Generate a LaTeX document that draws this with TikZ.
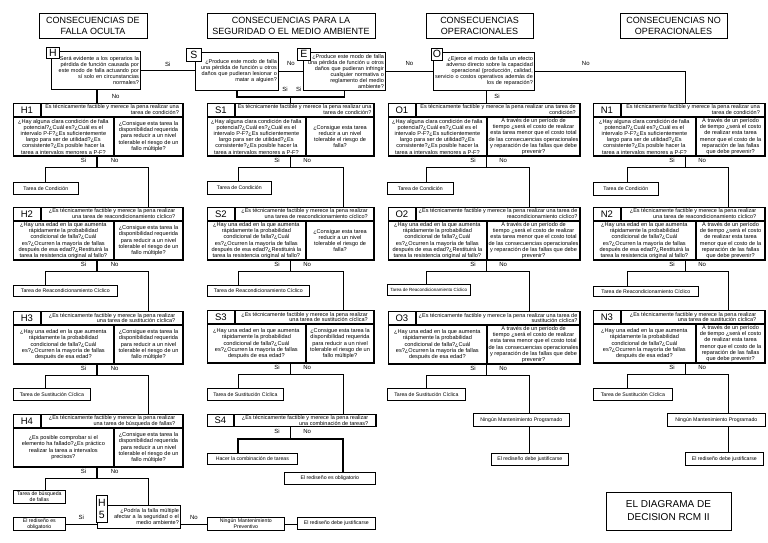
\documentclass[tikz,border=0pt]{standalone}
\usepackage{fontspec}
\setmainfont{Liberation Sans}
\usetikzlibrary{positioning}
\usetikzlibrary{shadows}
\tikzset{
    tbox/.style={
        draw, line width=0.7pt, fill=white,
        drop shadow={shadow xshift=0.8pt, shadow yshift=-0.8pt, fill=black!60, opacity=0.8}},
    capbox/.style={tbox, align=center, inner sep=1pt,
        font=\fontsize{9}{11}\selectfont},
    ask/.style={tbox, anchor=north west, align=right, inner sep=0.8pt,
        font=\fontsize{5.5}{6}\selectfont},
    tag/.style={tbox, anchor=north west, inner sep=0pt, align=center,
        font=\fontsize{10.5}{12}\selectfont},
    decframe/.style={tbox, anchor=north west, minimum height=52},
    idcell/.style={draw, line width=0.7pt, anchor=north west, inner sep=0pt,
        minimum width=27, minimum height=13, font=\fontsize{9.5}{10}\selectfont},
    headcell/.style={draw, line width=0.7pt, anchor=north west, inner sep=0pt,
        minimum height=13, align=right, font=\fontsize{5.5}{5.7}\selectfont},
    qcell/.style={draw, line width=0.7pt, anchor=north west, inner sep=0.6pt,
        minimum height=39, align=center, font=\fontsize{5.6}{6.2}\selectfont},
    task/.style={tbox, anchor=north west, align=center, inner sep=0.5pt,
        font=\fontsize{5.2}{5.8}\selectfont},
    lbl/.style={inner sep=0pt, font=\fontsize{6}{6}\selectfont},
    conn/.style={draw, line width=0.7pt},
    heavy/.style={line width=1.6pt}}

% decision box: name, x, y, width, divider, label, header, left, right
\newcommand{\decbox}[9]{%
    \node[decframe, minimum width=#4] (#1) at (#2,#3) {};
    \node[idcell] (#1-id) at (#1.north west) {#6};
    \node[headcell, minimum width=#4-27] (#1-hd) at (#1-id.north east) {#7};
    \node[qcell, minimum width=#5] (#1-l) at (#1-id.south west) {#8};
    \node[qcell, minimum width=#4-#5] (#1-r) at (#1-l.north east) {#9};}

\newcommand{\txCond}{¿Hay alguna clara condición de falla\\potencial?¿Cuál es?¿Cuál es el\\intervalo P-F?¿Es suficientemente\\largo para ser de utilidad?¿Es\\consistente?¿Es posible hacer la\\tarea a intervalos menores a P-F?}
\newcommand{\txEdadR}{¿Hay una edad en la que aumenta\\rápidamente la probabilidad\\condicional de falla?¿Cuál\\es?¿Ocurren la mayoría de fallas\\después de esa edad?¿Restituirá la\\tarea la resistencia original al fallo?}
\newcommand{\txEdad}{¿Hay una edad en la que aumenta\\rápidamente la probabilidad\\condicional de falla?¿Cuál\\es?¿Ocurren la mayoría de fallas\\después de esa edad?}
\newcommand{\txMulti}{¿Consigue esta tarea la\\disponibilidad requerida\\para reducir a un nivel\\tolerable el riesgo de un\\fallo múltiple?}
\newcommand{\txRiesgo}{¿Consigue esta tarea\\reducir a un nivel\\tolerable el riesgo de\\falla?}
\newcommand{\txCostoOp}{A través de un período de\\tiempo ¿será el costo de realizar\\esta tarea menor que el costo total\\de las consecuencias operacionales\\y reparación de las fallas que debe\\prevenir?}
\newcommand{\txCostoNo}{A través de un período\\de tiempo ¿será el costo\\de realizar esta tarea\\menor que el costo de la\\reparación de las fallas\\que debe prevenir?}
\newcommand{\hdCond}{Es técnicamente factible y merece la pena realizar una\\tarea de condición?}
\newcommand{\hdRec}{¿Es técnicamente factible y merece la pena realizar\\una tarea de reacondicionamiento cíclico?}
\newcommand{\hdSus}{¿Es técnicamente factible y merece la pena realizar\\una tarea de sustitución cíclica?}

\begin{document}
\begin{tikzpicture}[x=1pt, y=-1pt]
    \useasboundingbox (0,0) rectangle (768,543);

    % column lines
    \coordinate (hx) at (97,0);  \coordinate (hL) at (45,0);  \coordinate (hR) at (148,0);
    \coordinate (sx) at (290,0); \coordinate (sL) at (238,0); \coordinate (sR) at (343,0);
    \coordinate (ox) at (486,0); \coordinate (oL) at (426,0); \coordinate (oR) at (529,0);
    \coordinate (nx) at (685,0); \coordinate (nL) at (627,0); \coordinate (nR) at (728,0);
    \coordinate (sej) at (290,97);

    % titles
    \node[capbox, minimum width=108, minimum height=25] (t-h) at (93,25.5) {CONSECUENCIAS DE\\FALLA OCULTA};
    \node[capbox, minimum width=168, minimum height=25] (t-s) at (291,25.5) {CONSECUENCIAS PARA LA\\SEGURIDAD O EL MEDIO AMBIENTE};
    \node[capbox, minimum width=107, minimum height=25] (t-o) at (479.5,25.5) {CONSECUENCIAS\\OPERACIONALES};
    \node[capbox, minimum width=107, minimum height=25] (t-n) at (673.5,25.5) {CONSECUENCIAS NO\\OPERACIONALES};

    % first questions
    \node[ask, minimum width=89, minimum height=38, text width=86] (hq) at (51,51) {Será evidente a los operarios la\\pérdida de función causada por\\este modo de falla actuando por\\sí solo en circunstancias\\normales?};
    \node[tag, minimum width=13, minimum height=11] (h-tag) at (46,47) {H};
    \node[ask, minimum width=83, minimum height=38, text width=80] (sq) at (195,52) {¿Produce este modo de falla\\una pérdida de función u otros\\daños que pudieran lesionar o\\matar a alguien?};
    \node[tag, minimum width=15, minimum height=13] (s-tag) at (186,48) {S};
    \node[ask, minimum width=82, minimum height=38, text width=79] (eq) at (303,52) {¿Produce este modo de falla\\una pérdida de función u otros\\daños que pudieran infringir\\cualquier normativa o\\reglamento del medio\\ambiente?};
    \node[tag, minimum width=13, minimum height=12] (e-tag) at (297,48) {E};
    \node[ask, minimum width=101, minimum height=38, text width=98] (oq) at (433,52) {¿Ejerce el modo de falla un efecto\\adverso directo sobre la capacidad\\operacional (producción, calidad,\\servicio o costos operativos además de\\los de reparación?};
    \node[tag, minimum width=11, minimum height=12] (o-tag) at (431,48) {O};

    % decision boxes
    \decbox{h1}{13}{103}{169}{100}{H1}{\hdCond}{\txCond}{\txMulti}
    \decbox{h2}{13}{207}{169}{100}{H2}{\hdRec}{\txEdadR}{\txMulti}
    \decbox{h3}{13}{311}{169}{100}{H3}{\hdSus}{\txEdad}{\txMulti}
    \decbox{h4}{13}{414}{169}{100}{H4}{¿Es técnicamente factible y merece la pena realizar\\una tarea de búsqueda de fallas?}{¿Es posible comprobar si el\\elemento ha fallado?¿Es práctico\\realizar la tarea a intervalos\\precisos?}{\txMulti}
    \decbox{s1}{207}{103}{166}{98}{S1}{\hdCond}{\txCond}{\txRiesgo}
    \decbox{s2}{207}{207}{166}{98}{S2}{\hdRec}{\txEdadR}{\txRiesgo}
    \decbox{s3}{207}{310}{166}{98}{S3}{\hdSus}{\txEdad}{\txMulti}
    \decbox{o1}{388}{103}{191}{98}{O1}{Es técnicamente factible y merece la pena realizar una tarea de\\condición?}{\txCond}{\txCostoOp}
    \decbox{o2}{388}{207}{191}{98}{O2}{¿Es técnicamente factible y merece la pena realizar una tarea de\\reacondicionamiento cíclico?}{\txEdadR}{\txCostoOp}
    \decbox{o3}{388}{311}{191}{98}{O3}{¿Es técnicamente factible y merece la pena realizar una tarea de\\sustitución cíclica?}{\txEdad}{\txCostoOp}
    \decbox{n1}{593}{103}{171}{102}{N1}{\hdCond}{\txCond}{\txCostoNo}
    \decbox{n2}{593}{207}{171}{102}{N2}{\hdRec}{\txEdadR}{\txCostoNo}
    \decbox{n3}{593}{310}{171}{102}{N3}{\hdSus}{\txEdad}{\txCostoNo}

    \node[decframe, minimum width=168, minimum height=12] (s4) at (207,414) {};
    \node[idcell, minimum width=26, minimum height=12] (s4-id) at (s4.north west) {S4};
    \node[headcell, minimum width=142, minimum height=12] (s4-hd) at (s4-id.north east) {¿Es técnicamente factible y merece la pena realizar\\una combinación de tareas?};

    \node[ask, minimum width=83, minimum height=23, text width=80] (h5q) at (97,505) {¿Podría la falla múltiple\\afectar a la seguridad o el\\medio ambiente?};
    \node[tag, minimum width=11, minimum height=27] (h5-tag) at (96,495) {H\\5};

    % tasks
    \node[task, minimum width=65, minimum height=12] (cnd-h) at (13,182) {Tarea de Condición};
    \node[task, minimum width=104, minimum height=11] (rec-h) at (13,285) {Tarea de Reacondicionamiento Cíclico};
    \node[task, minimum width=77, minimum height=12] (sus-h) at (13,388) {Tarea de Sustitución Cíclica};
    \node[task, minimum width=52, minimum height=13] (bus-h) at (13,490) {Tarea de búsqueda\\de fallas};
    \node[task, minimum width=52, minimum height=13] (red-h) at (13,517) {El rediseño es\\obligatorio};
    \node[task, minimum width=77, minimum height=13] (nmp-h) at (207,517) {Ningún Mantenimiento\\Preventivo};
    \node[task, minimum width=78, minimum height=12] (rdj-h) at (297,517) {El rediseño debe justificarse};

    \node[task, minimum width=64, minimum height=13] (cnd-s) at (207,181) {Tarea de Condición};
    \node[task, minimum width=102, minimum height=11] (rec-s) at (207,285) {Tarea de Reacondicionamiento Cíclico};
    \node[task, minimum width=76, minimum height=12] (sus-s) at (207,388) {Tarea de Sustitución Cíclica};
    \node[task, minimum width=90, minimum height=11] (hct) at (207,453) {Hacer la combinación de tareas};
    \node[task, minimum width=91, minimum height=12] (reo-s) at (284,472) {El rediseño es obligatorio};

    \node[task, minimum width=66, minimum height=12] (cnd-o) at (387,182) {Tarea de Condición};
    \node[task, minimum width=83, minimum height=11, font=\fontsize{4.5}{5}\selectfont] (rec-o) at (387,284) {Tarea de Reacondicionamiento Cíclico};
    \node[task, minimum width=78, minimum height=12] (sus-o) at (387,388) {Tarea de Sustitución Cíclica};
    \node[task, minimum width=96, minimum height=13] (nmp-o) at (473,413) {Ningún Mantenimiento Programado};
    \node[task, minimum width=77, minimum height=12] (rdj-o) at (491,453) {El rediseño debe justificarse};

    \node[task, minimum width=65, minimum height=13] (cnd-n) at (593,182) {Tarea de Condición};
    \node[task, minimum width=105, minimum height=10] (rec-n) at (593,286) {Tarea de Reacondicionamiento Cíclico};
    \node[task, minimum width=79, minimum height=12] (sus-n) at (593,388) {Tarea de Sustitución Cíclica};
    \node[task, minimum width=98, minimum height=13] (nmp-n) at (667,413) {Ningún Mantenimiento Programado};
    \node[task, minimum width=78, minimum height=13] (rdj-n) at (685,452) {El rediseño debe justificarse};

    \node[capbox, minimum width=125, minimum height=38, font=\fontsize{10}{13}\selectfont] (rcm) at (668.5,511) {EL DIAGRAMA DE\\DECISION RCM II};

    % first row links
    \draw[conn] (hq.east) -- (hq.east -| sq.west) node[lbl, midway, above=3pt] (hq-si) {Si};
    \draw[conn] (sq.east) -- (sq.east -| eq.west) node[lbl, midway, above=5pt] (sq-no) {No};
    \draw[conn] (eq.east) -- (eq.east -| oq.west) node[lbl, midway, above=5pt] (eq-no) {No};
    \draw[conn] (oq.east) -| (n1.north -| nx) node[lbl, pos=.17, above=5pt] (oq-no) {No};
    \draw[conn, heavy] (hq.south -| hx) -- (h1.north -| hx) node[lbl, midway, right=14pt] (hq-no) {No};
    \draw[conn, heavy] (sq.south) |- (sej) -| (eq.south);
    \draw[conn] (sej) -- (sej |- s1.north);
    \node[lbl, above left=5pt and 2pt of sej] (sq-si) {Si};
    \node[lbl, above right=5pt and 6pt of sej] (eq-si) {Si};
    \draw[conn] (oq.south -| ox) -- (o1.north -| ox) node[lbl, midway, right=8pt] (oq-si) {Si};

    % H column
    \draw[conn, heavy] (h1.south -| hx) -- ++(0,12) coordinate (h1-b)
        node[lbl, pos=.4, left=10pt] (h1-si) {Si} node[lbl, pos=.4, right=13pt] (h1-no) {No};
    \draw[conn] (cnd-h.north -| hL) |- (h1-b) -| (h2.north -| hR);
    \draw[conn, heavy] (h2.south -| hx) -- ++(0,12) coordinate (h2-b)
        node[lbl, pos=.4, left=10pt] (h2-si) {Si} node[lbl, pos=.4, right=13pt] (h2-no) {No};
    \draw[conn] (rec-h.north -| hL) |- (h2-b) -| (h3.north -| hR);
    \draw[conn, heavy] (h3.south -| hx) -- ++(0,12) coordinate (h3-b)
        node[lbl, pos=.4, left=10pt] (h3-si) {Si} node[lbl, pos=.4, right=13pt] (h3-no) {No};
    \draw[conn] (sus-h.north -| hL) |- (h3-b) -| (h4.north -| hR);
    \draw[conn, heavy] (h4.south -| hx) -- ++(0,12) coordinate (h4-b)
        node[lbl, pos=.4, left=10pt] (h4-si) {Si} node[lbl, pos=.4, right=13pt] (h4-no) {No};
    \draw[conn] (bus-h.north -| hL) |- (h4-b) -| (h5q.north -| hR);
    \draw[conn] (red-h.east) -- (red-h.east -| h5q.west) node[lbl, midway, above=4pt] (h5-si) {Si};
    \draw[conn] (h5q.east |- nmp-h.west) -- (nmp-h.west) node[lbl, midway, above=4pt] (h5-no) {No};
    \draw[conn] (nmp-h.east) -- (nmp-h.east -| rdj-h.west);

    % S column
    \draw[conn] (s1.south -| sx) -- ++(0,12) coordinate (s1-b)
        node[lbl, pos=.4, left=10pt] (s1-si) {Si} node[lbl, pos=.4, right=13pt] (s1-no) {No};
    \draw[conn] (cnd-s.north -| sL) |- (s1-b) -| (s2.north -| sR);
    \draw[conn] (s2.south -| sx) -- ++(0,12) coordinate (s2-b)
        node[lbl, pos=.4, left=10pt] (s2-si) {Si} node[lbl, pos=.4, right=13pt] (s2-no) {No};
    \draw[conn] (rec-s.north -| sL) |- (s2-b) -| (s3.north -| sR);
    \draw[conn] (s3.south -| sx) -- ++(0,12) coordinate (s3-b)
        node[lbl, pos=.4, left=10pt] (s3-si) {Si} node[lbl, pos=.4, right=13pt] (s3-no) {No};
    \draw[conn] (sus-s.north -| sL) |- (s3-b) -| (s4.north -| sR);
    \draw[conn] (s4.south -| sx) -- ++(0,12) coordinate (s4-b)
        node[lbl, pos=.4, left=10pt] (s4-si) {Si} node[lbl, pos=.4, right=13pt] (s4-no) {No};
    \draw[conn, heavy] (hct.north -| sL) |- (s4-b) -| (reo-s.north -| sR);

    % O column
    \draw[conn] (o1.south -| ox) -- ++(0,12) coordinate (o1-b)
        node[lbl, pos=.4, left=10pt] (o1-si) {Si} node[lbl, pos=.4, right=13pt] (o1-no) {No};
    \draw[conn] (cnd-o.north -| oL) |- (o1-b) -| (o2.north -| oR);
    \draw[conn] (o2.south -| ox) -- ++(0,12) coordinate (o2-b)
        node[lbl, pos=.4, left=10pt] (o2-si) {Si} node[lbl, pos=.4, right=13pt] (o2-no) {No};
    \draw[conn] (rec-o.north -| oL) |- (o2-b) -| (o3.north -| oR);
    \draw[conn] (o3.south -| ox) -- ++(0,12) coordinate (o3-b)
        node[lbl, pos=.4, left=10pt] (o3-si) {Si} node[lbl, pos=.4, right=13pt] (o3-no) {No};
    \draw[conn] (sus-o.north -| oL) |- (o3-b) -| (nmp-o.north -| oR);
    \draw[conn] (nmp-o.south -| oR) -- (rdj-o.north -| oR);

    % N column
    \draw[conn] (n1.south -| nx) -- ++(0,12) coordinate (n1-b)
        node[lbl, pos=.4, left=10pt] (n1-si) {Si} node[lbl, pos=.4, right=13pt] (n1-no) {No};
    \draw[conn] (cnd-n.north -| nL) |- (n1-b) -| (n2.north -| nR);
    \draw[conn] (n2.south -| nx) -- ++(0,12) coordinate (n2-b)
        node[lbl, pos=.4, left=10pt] (n2-si) {Si} node[lbl, pos=.4, right=13pt] (n2-no) {No};
    \draw[conn] (rec-n.north -| nL) |- (n2-b) -| (n3.north -| nR);
    \draw[conn] (n3.south -| nx) -- ++(0,12) coordinate (n3-b)
        node[lbl, pos=.4, left=10pt] (n3-si) {Si} node[lbl, pos=.4, right=13pt] (n3-no) {No};
    \draw[conn] (sus-n.north -| nL) |- (n3-b) -| (nmp-n.north -| nR);
    \draw[conn] (nmp-n.south -| nR) -- (rdj-n.north -| nR);
\end{tikzpicture}
\end{document}
